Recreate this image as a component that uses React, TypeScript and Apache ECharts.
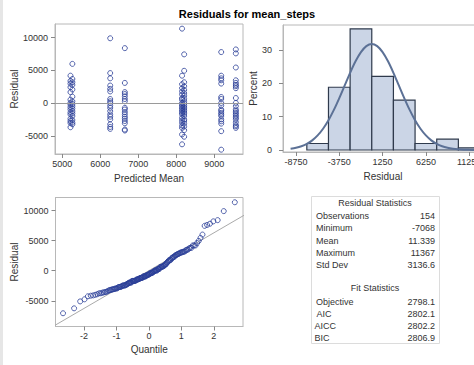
import React, { useEffect, useRef } from 'react';
import * as echarts from 'echarts';

// ---- data ----
const predictedMeans = [5215, 5265, 6260, 6645, 8150, 8205, 9180, 9565];
const resA1 = [4200, 3400, 3000, 2450, 1700, 550, 50, -200, -600, -950, -1400, -1700, -2350, -2700, -3000, -3650];
const resA2 = [6000, 3700, 3200, 2800, 2100, 1000, 300, -100, -450, -800, -1200, -1550, -1950, -2550, -2950, -3200];
const resB = [9900, 4600, 3800, 2700, 2200, 1800, 650, 300, 50, -350, -700, -1200, -1700, -2050, -2450, -3200, -3600, -3900];
const resC = [8400, 3100, 1700, 1400, 1050, 650, 300, -700, -950, -1350, -1700, -2050, -2350, -2700, -3050, -4000, -4150];
const resD1 = [11367, 4200, 2900, 2300, 1800, 1350, 800, 550, 50, -200, -450, -700, -950, -1200, -1450, -1700, -2200, -2600, -2950, -3400, -3750, -4750, -6250];
const resD2 = [7450, 4950, 3200, 2600, 2050, 1550, 1150, 700, 300, -50, -350, -600, -850, -1100, -1350, -1600, -1950, -2450, -2700, -3100, -3550, -4100, -5100];
const resE = [7800, 4200, 3800, 3500, 3000, 950, 650, 50, -350, -950, -1150, -1450, -1700, -1950, -2450, -2750, -3100, -4250, -7068];
const resF = [8200, 7600, 5450, 3500, 3100, 2800, 2600, 2300, 800, 50, -450, -950, -1200, -1450, -1700, -1950, -2200, -2450, -2900, -3300, -3500, -3750];

const binEdges = [-7500, -5000, -2500, 0, 2500, 5000, 7500, 10000, 12500];
const curveX = [-9375, -8750, -8125, -7500, -6875, -6250, -5625, -5000, -4375, -3750, -3125, -2500, -1875, -1250, -625, 0, 625, 1250, 1875, 2500, 3125, 3750, 4375, 5000, 5625, 6250, 6875, 7500, 8125, 8750, 9375, 10000, 10625, 11250, 11875, 12500];
const curvePct = [0.365, 0.65, 1.11, 1.82, 2.88, 4.37, 6.37, 8.93, 12.02, 15.56, 19.36, 23.15, 26.6, 29.37, 31.17, 31.8, 31.17, 29.37, 26.6, 23.15, 19.36, 15.56, 12.02, 8.93, 6.37, 4.37, 2.88, 1.82, 1.11, 0.65, 0.365, 0.197, 0.1, 0.05, 0.024, 0.011];

const scatterXTicks = [5000, 6000, 7000, 8000, 9000];
const scatterYTicks = [-5000, 0, 5000, 10000];
const histXTicks = [-8750, -3750, 1250, 6250, 11250];
const histYTicks = [0, 10, 20, 30];
const qqXTicks = [-2, -1, 0, 1, 2];
const qqYTicks = [-5000, 0, 5000, 10000];

const resMean = 11.339;
const resStd = 3136.6;

const residualStatLabels = ['Observations', 'Minimum', 'Mean', 'Maximum', 'Std Dev'];
const residualStatValues = ['154', '-7068', '11.339', '11367', '3136.6'];
const fitStatLabels = ['Objective', 'AIC', 'AICC', 'BIC'];
const fitStatValues = ['2798.1', '2802.1', '2802.2', '2806.9'];

// ---- helpers ----
const FONT = '"Liberation Sans", Arial, Helvetica, sans-serif';
const MARK = '#2b3f97';
const FRAME = '#b8b8b8';
const TXT = '#333333';

function invNorm(p: number): number {
  const a = [-3.969683028665376e1, 2.209460984245205e2, -2.759285104469687e2, 1.38357751867269e2, -3.066479806614716e1, 2.506628277459239];
  const b = [-5.447609879822406e1, 1.615858368580409e2, -1.556989798598866e2, 6.680131188771972e1, -1.328068155288572e1];
  const c = [-7.784894002430293e-3, -3.223964580411365e-1, -2.400758277161838, -2.549732539343734, 4.374664141464968, 2.938163982698783];
  const d = [7.784695709041462e-3, 3.224671290700398e-1, 2.445134137142996, 3.754408661907416];
  const pl = 0.02425;
  if (p < pl) {
    const q = Math.sqrt(-2 * Math.log(p));
    return (((((c[0] * q + c[1]) * q + c[2]) * q + c[3]) * q + c[4]) * q + c[5]) / ((((d[0] * q + d[1]) * q + d[2]) * q + d[3]) * q + 1);
  }
  if (p <= 1 - pl) {
    const q = p - 0.5;
    const r = q * q;
    return ((((((a[0] * r + a[1]) * r + a[2]) * r + a[3]) * r + a[4]) * r + a[5]) * q) / (((((b[0] * r + b[1]) * r + b[2]) * r + b[3]) * r + b[4]) * r + 1);
  }
  const q = Math.sqrt(-2 * Math.log(1 - p));
  return -(((((c[0] * q + c[1]) * q + c[2]) * q + c[3]) * q + c[4]) * q + c[5]) / ((((d[0] * q + d[1]) * q + d[2]) * q + d[3]) * q + 1);
}

function axis(gridIndex: number, min: number, max: number, ticks: number[], name: string, nameGap: number, labelMargin: number) {
  return {
    type: 'value',
    gridIndex,
    min,
    max,
    name,
    nameLocation: 'middle',
    nameGap,
    nameTextStyle: { fontFamily: FONT, fontSize: 10, color: TXT },
    axisLine: { show: true, onZero: false, lineStyle: { color: FRAME, width: 1 } },
    axisTick: { show: true, customValues: ticks, length: 4, lineStyle: { color: '#888' } },
    axisLabel: {
      show: true, customValues: ticks, margin: labelMargin, fontFamily: FONT, fontSize: 9, color: TXT,
      formatter: (v: number) => String(v),
    },
    splitLine: { show: false },
  };
}

export default function App() {
  const ref = useRef<HTMLDivElement>(null);

  useEffect(() => {
    if (!ref.current) return;
    const chart = echarts.init(ref.current, undefined, { renderer: 'svg' });

    const groups = [resA1, resA2, resB, resC, resD1, resD2, resE, resF];
    const scatterData: number[][] = [];
    groups.forEach((g, i) => g.forEach((r) => scatterData.push([predictedMeans[i], r])));

    const all = scatterData.map((d) => d[1]).sort((x, y) => x - y);
    const n = all.length;
    const qqData = all.map((r, i) => [invNorm((i + 1 - 0.375) / (n + 0.25)), r]);

    const histData: number[][] = [];
    for (let i = 0; i < binEdges.length - 1; i++) {
      const cnt = all.filter((r) => r >= binEdges[i] && r < binEdges[i + 1]).length;
      histData.push([binEdges[i], binEdges[i + 1], (cnt / n) * 100]);
    }
    const curveData = curveX.map((x, i) => [x, curvePct[i]]);

    const graphics: any[] = [
      { type: 'rect', shape: { x: 0, y: 0, width: 3, height: 365 }, style: { fill: '#e6e6e6' }, silent: true },
      {
        type: 'text', x: 247, y: 14,
        style: { text: 'Residuals for mean_steps', font: `bold 11px ${FONT}`, fill: '#000', textAlign: 'center', textVerticalAlign: 'middle' },
      },
      { type: 'rect', shape: { x: 311.5, y: 196.5, width: 128, height: 147 }, style: { fill: 'none', stroke: '#dcdcdc', lineWidth: 1 } },
      {
        type: 'text', x: 375, y: 202.5,
        style: { text: 'Residual Statistics', font: `9px ${FONT}`, fill: TXT, textAlign: 'center', textVerticalAlign: 'middle' },
      },
      {
        type: 'text', x: 375, y: 288,
        style: { text: 'Fit Statistics', font: `9px ${FONT}`, fill: TXT, textAlign: 'center', textVerticalAlign: 'middle' },
      },
    ];
    residualStatLabels.forEach((l, i) => {
      const y = 216 + i * 12.3;
      graphics.push({ type: 'text', x: 316, y, style: { text: l, font: `9px ${FONT}`, fill: TXT, textAlign: 'left', textVerticalAlign: 'middle' } });
      graphics.push({ type: 'text', x: 435, y, style: { text: residualStatValues[i], font: `9px ${FONT}`, fill: TXT, textAlign: 'right', textVerticalAlign: 'middle' } });
    });
    const fitX = [316, 316.5, 314.5, 314.5];
    fitStatLabels.forEach((l, i) => {
      const y = 301.7 + i * 12.2;
      graphics.push({ type: 'text', x: fitX[i], y, style: { text: l, font: `9px ${FONT}`, fill: TXT, textAlign: 'left', textVerticalAlign: 'middle' } });
      graphics.push({ type: 'text', x: 435, y, style: { text: fitStatValues[i], font: `9px ${FONT}`, fill: TXT, textAlign: 'right', textVerticalAlign: 'middle' } });
    });

    const markerStyle = { color: 'transparent', borderColor: MARK, borderWidth: 1 };

    chart.setOption({
      animation: false,
      backgroundColor: '#ffffff',
      textStyle: { fontFamily: FONT },
      grid: [
        { left: 55, top: 24, width: 188, height: 130, show: true, borderColor: FRAME, borderWidth: 1, backgroundColor: 'transparent', outerBoundsMode: 'none' },
        { left: 283, top: 25, width: 200, height: 127, show: true, borderColor: FRAME, borderWidth: 1, backgroundColor: 'transparent', outerBoundsMode: 'none' },
        { left: 55.5, top: 197.5, width: 187.5, height: 129, show: true, borderColor: FRAME, borderWidth: 1, backgroundColor: 'transparent', outerBoundsMode: 'none' },
      ],
      xAxis: [
        axis(0, 4808, 9753, scatterXTicks, 'Predicted Mean', 19, 5),
        axis(1, -10251, 12844, histXTicks, 'Residual', 19, 5),
        axis(2, -2.88, 2.9, qqXTicks, 'Quantile', 18, 5),
      ],
      yAxis: [
        axis(0, -7727, 12076, scatterYTicks, 'Residual', 34, 7),
        axis(1, -0.6, 37.5, histYTicks, 'Percent', 22, 11),
        axis(2, -9269, 12160, qqYTicks, 'Residual', 34, 7),
      ],
      series: [
        {
          type: 'scatter', xAxisIndex: 0, yAxisIndex: 0, data: scatterData,
          symbol: 'circle', symbolSize: 5, itemStyle: markerStyle,
          markLine: {
            silent: true, symbol: 'none', label: { show: false },
            lineStyle: { color: '#9a9a9a', type: 'solid', width: 1 },
            data: [{ yAxis: 0 }],
          },
        },
        {
          type: 'custom', xAxisIndex: 1, yAxisIndex: 1, data: histData,
          encode: { x: [0, 1], y: 2 },
          renderItem: (params: any, api: any) => {
            const p0 = api.coord([api.value(0), api.value(2)]);
            const p1 = api.coord([api.value(1), 0]);
            return {
              type: 'rect',
              shape: { x: p0[0], y: p0[1], width: p1[0] - p0[0], height: p1[1] - p0[1] },
              style: { fill: '#cbd5e6', stroke: '#2f3a4c', lineWidth: 1.2 },
            };
          },
        },
        {
          type: 'line', xAxisIndex: 1, yAxisIndex: 1, data: curveData, smooth: 0.3,
          showSymbol: false, lineStyle: { color: '#5c7196', width: 2 },
        },
        {
          type: 'line', xAxisIndex: 2, yAxisIndex: 2,
          data: [[-3, resMean - 3 * resStd], [3, resMean + 3 * resStd]],
          showSymbol: false, lineStyle: { color: '#aaaaaa', width: 1 }, z: 1,
        },
        {
          type: 'scatter', xAxisIndex: 2, yAxisIndex: 2, data: qqData,
          symbol: 'circle', symbolSize: 5, itemStyle: markerStyle, z: 3,
        },
      ],
      graphic: graphics,
    });

    return () => chart.dispose();
  }, []);

  return <div ref={ref} style={{ position: 'absolute', left: 0, top: 0, width: 474, height: 365 }} />;
}
